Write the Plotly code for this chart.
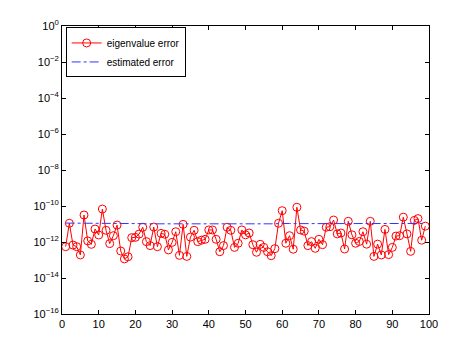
import plotly.graph_objects as go

# log10 of eigenvalue error (index 1..99)
eig_log = [
    -12.26, -10.96, -12.17, -12.26, -12.72, -10.50, -11.94, -12.13, -11.28, -11.61,
    -10.17, -11.35, -12.09, -11.65, -11.06, -12.50, -12.94, -12.82, -11.76, -11.74,
    -11.56, -11.18, -11.98, -12.20, -11.17, -12.26, -11.52, -11.57, -12.44, -12.02,
    -11.43, -12.74, -11.02, -12.80, -11.73, -11.35, -11.98, -11.90, -11.85, -11.33,
    -11.33, -11.85, -12.54, -12.20, -11.18, -11.35, -12.30, -12.07, -11.33, -11.60,
    -11.50, -12.15, -12.57, -12.13, -12.30, -12.54, -12.76, -12.37, -10.96, -10.26,
    -12.07, -11.65, -12.40, -10.07, -11.33, -11.40, -12.20, -11.98, -12.35, -11.85,
    -12.15, -11.18, -11.15, -10.78, -11.55, -11.50, -12.39, -10.85, -11.60, -12.07,
    -11.97, -11.43, -12.12, -10.85, -12.80, -12.12, -12.72, -11.30, -12.70, -12.30,
    -11.67, -11.65, -10.62, -11.55, -12.52, -10.80, -10.70, -11.90, -11.12,
]

# log10 of estimated error (dash-dot line)
est_log = [
    -10.95, -10.95, -10.96, -10.96, -10.97, -10.96, -10.95, -10.95, -10.94, -10.94,
    -10.94, -10.95, -10.95, -10.96, -10.96, -10.97, -10.97, -10.97, -10.98, -10.98,
    -10.98, -10.98, -10.99, -10.99, -10.99, -11.00, -11.00, -11.00, -11.00, -11.01,
    -11.01, -11.01, -11.01, -11.02, -11.02, -11.02, -11.02, -11.02, -11.03, -11.03,
    -11.03, -11.03, -11.03, -11.03, -11.03, -11.03, -11.03, -11.03, -11.02, -11.02,
    -11.02, -11.02, -11.01, -11.01, -11.00, -11.00, -10.99, -10.98, -10.97, -10.96,
    -10.96, -10.97, -10.98, -10.98, -10.99, -10.99, -11.00, -11.00, -11.00, -11.01,
    -11.01, -11.01, -11.01, -11.01, -11.01, -11.01, -11.01, -11.01, -11.00, -11.00,
    -11.00, -11.00, -11.00, -11.00, -11.00, -11.00, -10.99, -10.99, -10.99, -10.99,
    -10.99, -10.98, -10.98, -10.98, -10.98, -10.97, -10.97, -10.97, -10.97,
]

x_vals = list(range(1, len(eig_log) + 1))
eig_err = [10 ** v for v in eig_log]
est_err = [10 ** v for v in est_log]

x_ticks = [0, 10, 20, 30, 40, 50, 60, 70, 80, 90, 100]
y_exps = [0, -2, -4, -6, -8, -10, -12, -14, -16]
y_tickvals = [10.0 ** e for e in y_exps]
y_ticktext = ["10<sup>%s</sup>" % (str(e).replace("-", "\u2212")) for e in y_exps]

font_family = "Liberation Sans, Arial, Helvetica, sans-serif"

fig = go.Figure()
fig.add_trace(go.Scatter(
    x=x_vals, y=eig_err, mode="lines+markers", name="eigenvalue error",
    line=dict(color="#ff0000", width=1),
    marker=dict(symbol="circle-open", size=8, color="#ff0000", line=dict(width=1)),
))
fig.add_trace(go.Scatter(
    x=x_vals, y=est_err, mode="lines", name="estimated error",
    line=dict(color="#3333ff", width=1, dash="dashdot"),
))

fig.update_layout(
    width=474, height=354,
    margin=dict(l=62, r=45, t=26, b=40),
    paper_bgcolor="white", plot_bgcolor="white",
    font=dict(family=font_family, size=11, color="black"),
    showlegend=True,
    legend=dict(
        x=0.01, y=0.995, xanchor="left", yanchor="top",
        bgcolor="white", bordercolor="black", borderwidth=1,
        font=dict(size=10), tracegroupgap=0, itemwidth=30,
    ),
    xaxis=dict(
        range=[0, 100], tickvals=x_ticks, ticks="inside", ticklen=4,
        showgrid=False, zeroline=False, showline=True, linecolor="black",
        linewidth=1, mirror="ticks", tickcolor="black",
    ),
    yaxis=dict(
        type="log", range=[-16, 0], tickvals=y_tickvals, ticktext=y_ticktext,
        ticks="inside", ticklen=4, showgrid=False, zeroline=False,
        showline=True, linecolor="black", linewidth=1, mirror="ticks",
        tickcolor="black",
    ),
)

fig.write_html("out.html")
